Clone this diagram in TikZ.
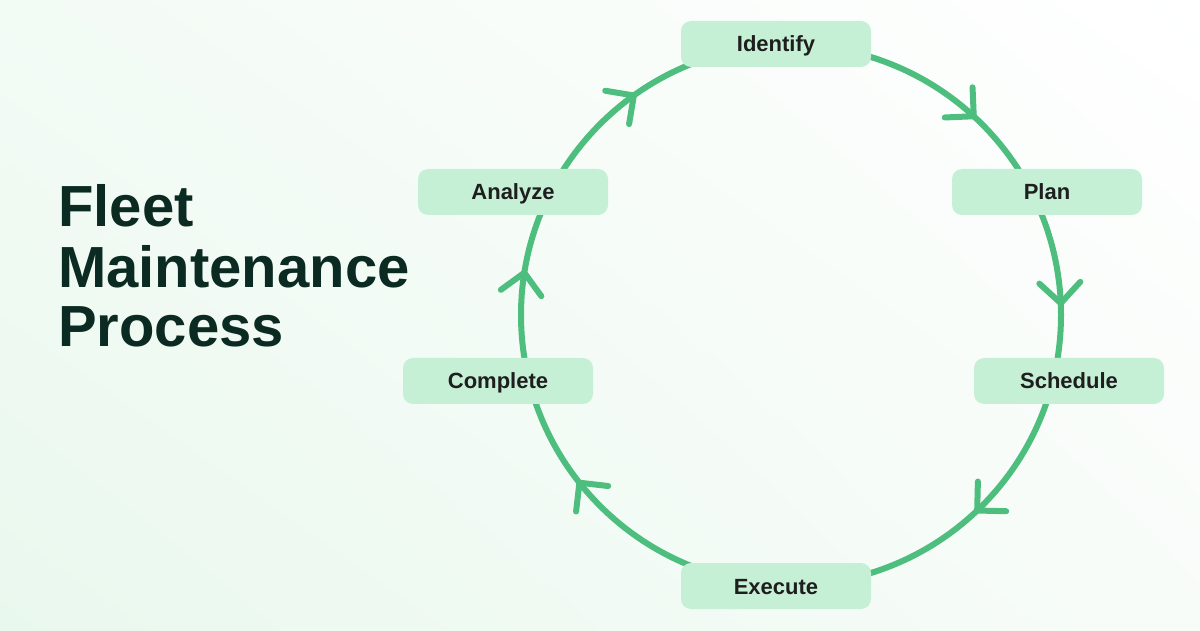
\documentclass[tikz,border=0pt]{standalone}
\usepackage{fontspec}
\setmainfont{Liberation Sans}
\usetikzlibrary{shadings}
\definecolor{ringgreen}{HTML}{4DBE7E}
\definecolor{boxfill}{HTML}{C6F0D6}
\definecolor{titlecol}{HTML}{0B2A22}
\definecolor{labelcol}{HTML}{1E1E1E}
\definecolor{bgll}{HTML}{E9F8EE}
\definecolor{bgul}{HTML}{F3FBF5}
\definecolor{bglr}{HTML}{F8FCF9}
\definecolor{bgur}{HTML}{FFFFFF}
\begin{document}
\begin{tikzpicture}[x=1pt,y=1pt,
  stagebox/.style={draw=none, fill=boxfill, rounded corners=10pt, minimum width=190pt, minimum height=46pt, inner sep=0pt,
    text height=16pt, text depth=0pt,
    font=\fontsize{22}{26}\selectfont\bfseries, text=labelcol},
  ring/.style={draw=ringgreen, line width=6pt},
  barb/.style={draw=ringgreen, line width=6pt, line cap=round, line join=round},
  titleline/.style={anchor=base west, inner sep=0pt, text=titlecol, font=\fontsize{58}{60}\selectfont\bfseries}]
\useasboundingbox (0,0) rectangle (1200,630);
\shade[lower left=bgll, upper left=bgul, lower right=bglr, upper right=bgur] (0,0) rectangle (1200,630);
\coordinate (c) at (791,315);
\draw[ring] (c) circle (270);
% arrowheads (clockwise flow)
\foreach \t in {125.6,47.4,2.5,-46.4,218.4,171}{
  \draw[barb] (c) ++(\t:270) ++(\t+45:29) -- ++(\t+225:29) -- ++(\t+135:29);
}
\node[stagebox] (identify) at (776,586) {Identify};
\node[stagebox] (plan) at (1047,438) {Plan};
\node[stagebox] (schedule) at (1069,249) {Schedule};
\node[stagebox] (execute) at (776,44) {Execute};
\node[stagebox] (complete) at (498,249) {Complete};
\node[stagebox] (analyze) at (513,438) {Analyze};
\node[titleline] (t1) at (58,403) {Fleet};
\node[titleline] (t2) at (58,342) {Maintenance};
\node[titleline] (t3) at (58,283) {Process};
\end{tikzpicture}
\end{document}
